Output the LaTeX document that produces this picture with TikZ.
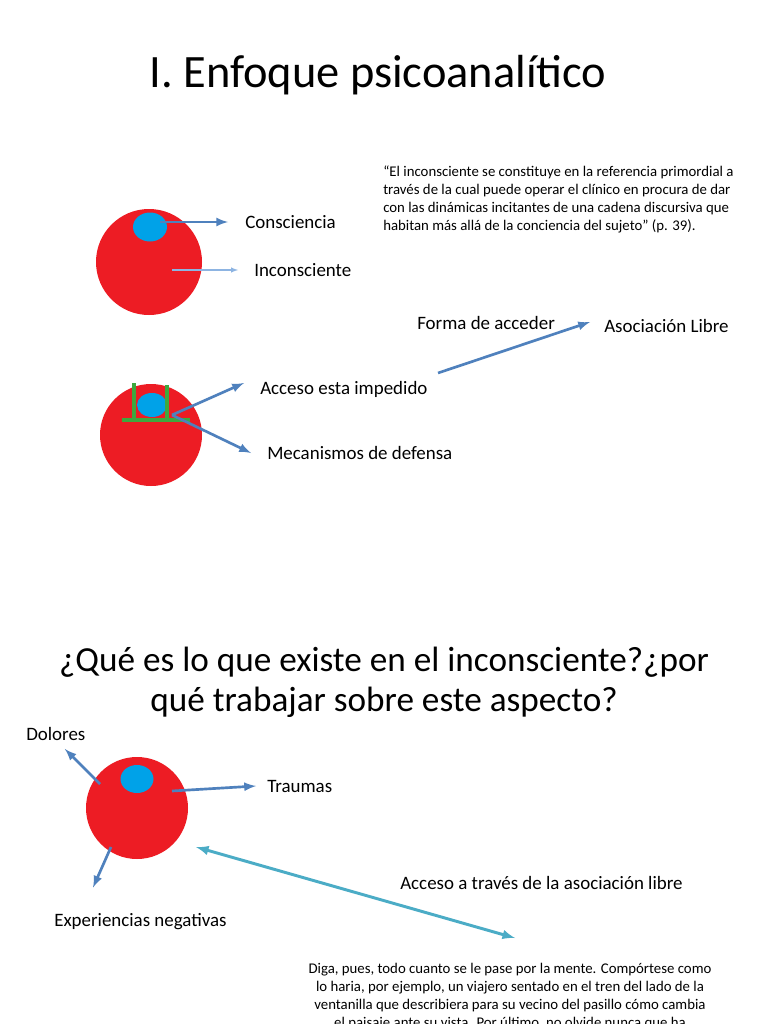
\documentclass[tikz,border=0pt]{standalone}
\usepackage{fontspec}
\setmainfont{Carlito}
\usetikzlibrary{shapes,arrows,calc,positioning}

\definecolor{paintred}{HTML}{ED1C24}
\definecolor{paintblue}{HTML}{00A2E8}
\definecolor{arrowblue}{HTML}{4F81BD}
\definecolor{paleblue}{HTML}{8DB4E2}
\definecolor{tealblue}{HTML}{4BACC6}
\definecolor{fencegreen}{HTML}{3EA83E}

\tikzset{
	mind/.style={circle, fill=paintred, inner sep=0pt},
	conscious/.style={ellipse, fill=paintblue, inner sep=0pt},
	lbl/.style={font=\fontsize{14.2}{17}\selectfont, anchor=west, inner sep=0pt},
	heading/.style={font=\fontsize{26.4}{30}\selectfont, align=center, inner sep=0pt},
	smalltext/.style={font=\fontsize{11.1}{13.5}\selectfont, inner sep=0pt},
	pointer/.style={-latex, arrowblue, line width=2pt},
	fence/.style={fencegreen, line width=2.3pt},
}

\begin{document}
\begin{tikzpicture}[x=0.75pt,y=-0.75pt]
				\clip (0,0) rectangle (768,1024);
				\fill[white] (0,0) rectangle (768,1024);
				\node[heading, font=\fontsize{34.8}{40}\selectfont] (title) at (378,75) {I. Enfoque psicoanalítico};
				\node[smalltext, anchor=north west, align=left] (quote) at (383,166) {“El inconsciente se constituye en la referencia primordial a\\través de la cual puede operar el clínico en procura de dar\\con las dinámicas incitantes de una cadena discursiva que\\habitan más allá de la conciencia del sujeto” (p. 39).};
				\node[mind, minimum size=79.5pt] (mindA) at (149,262) {};
				\node[conscious, minimum width=25.5pt, minimum height=21.75pt] (consA) at (150,227) {};
				\node[lbl] (cons) at (245,222) {Consciencia};
				\node[lbl] (incons) at (254,270) {Inconsciente};
				\draw[pointer] ($(consA.center)+(10,-5)$) -- ($(cons.west)+(-17,0)$);
				\draw[-latex, paleblue, line width=0.8pt] ($(mindA)+(23,8)$) -- ($(incons.west)+(-16,0)$);
				\node[lbl] (forma) at (417,323) {Forma de acceder};
				\node[lbl] (asoc) at (604,326) {Asociación Libre};
				\coordinate (formaTail) at (438,373);
				\draw[pointer] (formaTail) -- ($(asoc.west)+(-14,-4)$);
				\node[mind, minimum size=76.5pt] (mindB) at (151,435) {};
				\node[conscious, minimum width=22.5pt, minimum height=18pt] (consB) at (152,405) {};
				\draw[fence] (134,383) -- (134,420) (167,385) -- (167,420) (122,420) -- (190,420);
				\coordinate (gate) at ($(mindB)+(21,-20)$);
				\node[lbl] (acceso) at (260,389) {Acceso esta impedido};
				\node[lbl] (mecan) at (267,453) {Mecanismos de defensa};
				\draw[pointer] (gate) -- ($(acceso.west)+(-16,-6)$);
				\draw[pointer] (gate) -- ($(mecan.west)+(-16,0)$);
				\node[heading] (question) at (384,682) {¿Qué es lo que existe en el inconsciente?¿por\\qué trabajar sobre este aspecto?};
				\node[mind, minimum size=76.5pt] (mindC) at (137,808) {};
				\node[conscious, minimum width=24.75pt, minimum height=21pt] (consC) at (137,779) {};
				\node[lbl] (traumas) at (267,786) {Traumas};
				\node[lbl] (dolores) at (26,734) {Dolores};
				\node[lbl] (negativas) at (54,922) {Experiencias negativas};
				\node[lbl] (libre) at (400,883) {Acceso a través de la asociación libre};
				\node[smalltext, anchor=north, align=center] (freud) at (510,963) {Diga, pues, todo cuanto se le pase por la mente. Compórtese como\\lo haria, por ejemplo, un viajero sentado en el tren del lado de la\\ventanilla que describiera para su vecino del pasillo cómo cambia\\el paisaje ante su vista. Por último, no olvide nunca que ha};
				\draw[pointer] ($(mindC)+(35,-17)$) -- ($(traumas.west)+(-11,0)$);
				\draw[pointer] ($(mindC)+(-37,-24)$) -- ($(dolores.south)+(9,8)$);
				\draw[pointer] ($(mindC)+(-26,39)$) -- ($(negativas.north west)+(39,-26)$);
				\draw[latex-latex, tealblue, line width=2.2pt] ($(mindC)+(59,39)$) -- ($(freud.north)+(5,-25)$);
			\end{tikzpicture}
\end{document}
